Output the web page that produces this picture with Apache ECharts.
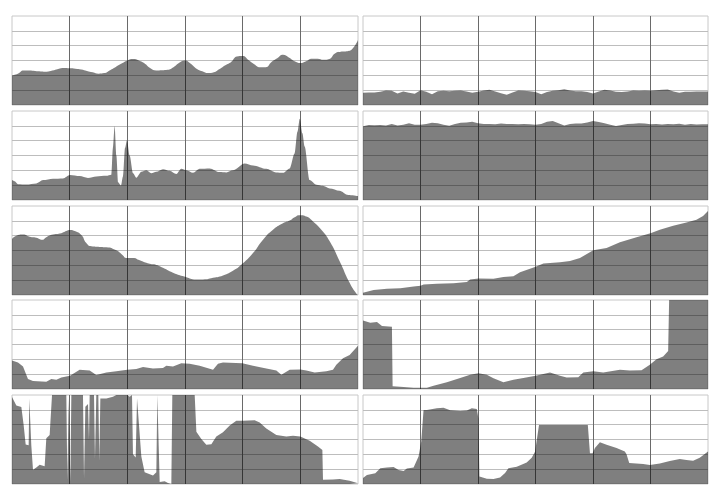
<!DOCTYPE html>
<html>
<head>
<meta charset="utf-8">
<script src="https://cdn.jsdelivr.net/npm/echarts@6/dist/echarts.min.js"></script>
<style>html,body{margin:0;padding:0;background:#fff}#c{width:721px;height:500px}</style>
</head>
<body>
<div id="c"></div>
<script>
// Values are in grid-row units (0..6); x in 0..60 (6 columns of 10)
const p1Y = [1.98,2.1,2.33,2.32,2.29,2.26,2.24,2.32,2.43,2.49,2.47,2.45,2.4,2.3,2.2,2.11,2.15,2.35,2.57,2.79,3.0,3.1,3.0,2.8,2.48,2.33,2.34,2.37,2.55,2.85,3.0,2.78,2.45,2.27,2.15,2.2,2.42,2.68,2.9,3.27,3.3,3.03,2.75,2.55,2.55,2.9,3.15,3.38,3.2,2.95,2.83,2.95,3.12,3.12,3.05,3.1,3.48,3.59,3.62,3.78,4.38];
const p2Y = [0.82,0.84,0.84,0.89,0.98,0.96,0.78,0.91,0.82,0.76,1.0,0.89,0.73,0.93,0.96,0.93,0.96,0.98,0.91,0.82,0.89,0.98,1.02,0.91,0.8,0.69,0.84,0.98,0.96,0.93,0.87,0.73,0.87,0.96,1.0,1.07,0.98,0.93,0.93,0.87,0.78,0.91,1.02,0.98,0.89,0.87,0.91,0.98,0.96,0.98,0.96,1.0,1.02,1.04,0.91,0.82,0.89,0.89,0.91,0.91,0.91];
const p3X = [0,0.46,1.04,2.49,4.22,5.38,7.11,8.84,10.06,11.73,13.18,14.62,16.36,17.23,17.5,17.8,18.1,18.4,18.9,19.25,19.6,19.94,20.4,21.0,21.56,22.43,23.3,24.16,25.03,26.18,27.34,28.5,29.36,30.23,31.39,32.54,34.28,36.0,37.17,38.3,40.35,41.8,44.1,45.8,47.0,48.15,49.0,49.5,49.9,50.35,50.75,51.6,52.8,53.9,55.1,56.8,58.3,60];
const p3Y = [1.34,1.27,1.07,1.05,1.12,1.34,1.43,1.45,1.68,1.61,1.48,1.59,1.63,1.7,3.5,4.97,3.0,1.2,0.98,1.6,3.5,4.03,3.0,1.8,1.5,1.9,2.0,1.8,1.9,2.08,1.97,1.75,2.1,2.0,1.83,2.1,2.13,1.88,1.86,2.0,2.46,2.33,2.1,1.86,1.83,2.13,3.13,4.6,5.48,4.5,3.6,1.34,1.03,0.96,0.78,0.63,0.34,0.27];
const p4Y = [4.97,5.05,5.04,5.06,5.02,5.13,5.03,5.08,5.18,5.07,5.08,5.12,5.2,5.17,5.08,5.0,5.12,5.2,5.23,5.28,5.18,5.12,5.13,5.11,5.16,5.12,5.13,5.1,5.12,5.1,5.08,5.12,5.28,5.32,5.18,5.02,5.12,5.15,5.16,5.22,5.32,5.26,5.18,5.08,4.99,5.05,5.12,5.14,5.17,5.15,5.1,5.12,5.09,5.12,5.1,5.14,5.08,5.13,5.09,5.1,5.1];
const p5X = [0,0.75,1.91,3.06,4.22,5.26,5.95,7.11,8.55,9.42,10.06,10.87,12.02,12.89,13.76,15.2,16.36,18.09,18.96,20.0,20.98,22.14,23.87,25.03,26.18,27.92,30.0,31.97,33.12,34.86,36.59,38.32,39.94,41.79,43.53,45.26,46.99,48.15,49.02,50.0,51.04,52.2,53.64,55.09,56.82,58.55,59.71,60];
const p5Y = [3.77,4.0,4.08,3.93,3.86,3.73,3.9,4.08,4.17,4.31,4.38,4.31,4.04,3.5,3.28,3.24,3.22,3.01,2.77,2.5,2.5,2.34,2.1,2.03,1.83,1.5,1.23,1.05,1.05,1.16,1.32,1.63,2.1,2.83,3.73,4.4,4.84,5.02,5.25,5.38,5.29,4.96,4.4,3.62,2.28,0.83,0.1,0];
const p6X = [0,1.85,4.17,6.48,8.8,10.01,10.53,12.85,15.74,18.06,18.63,20.08,22.69,24.42,26.16,27.31,30.03,31.37,34.26,36.0,37.73,40.05,42.36,44.68,47.57,50.0,51.62,53.94,56.25,57.99,59.14,60];
const p6Y = [0.16,0.33,0.42,0.45,0.58,0.63,0.71,0.76,0.8,0.87,1.05,1.12,1.1,1.21,1.27,1.54,1.9,2.12,2.21,2.3,2.5,3.01,3.17,3.55,3.9,4.17,4.4,4.67,4.89,5.07,5.33,5.67];
const p7X = [0,1.04,1.91,2.77,3.64,5.95,6.82,7.69,8.55,10.06,11.73,13.47,14.62,16.36,18.09,20.0,21.56,22.72,24.45,26.18,26.76,27.92,29.36,30.81,32.54,34.86,35.72,36.59,39.94,41.79,44.1,45.84,46.71,48.15,50.0,51.04,52.49,54.51,55.66,56.24,57.4,58.55,60];
const p7Y = [1.92,1.79,1.52,0.67,0.54,0.49,0.67,0.62,0.78,0.89,1.3,1.25,0.94,1.12,1.19,1.3,1.34,1.48,1.39,1.41,1.57,1.52,1.74,1.7,1.57,1.3,1.7,1.79,1.74,1.57,1.39,1.25,0.96,1.3,1.32,1.25,1.12,1.19,1.3,1.63,2.08,2.3,2.91];
const p8X = [0,1.27,2.43,3.3,5.03,5.15,7.06,8.8,11.11,12.27,14.58,16.9,18.63,20.08,21.53,22.69,24.42,26.16,27.89,30.03,32.52,34.26,35.42,37.44,38.31,40.05,41.78,44.68,46.41,48.44,49.88,51.04,52.2,53.07,53.24,60];
const p8Y = [4.61,4.47,4.52,4.25,4.2,0.18,0.13,0.09,0.09,0.22,0.45,0.74,0.96,1.07,0.96,0.72,0.45,0.63,0.74,0.89,1.12,0.89,0.78,0.8,1.12,1.19,1.12,1.3,1.25,1.26,1.63,2.01,2.19,2.57,6,6];
const p9X = [0,0.75,1.62,2.02,2.37,2.89,3.0,3.18,3.35,3.64,4.22,4.8,5.66,5.95,6.53,6.94,9.42,9.6,9.83,10.12,10.29,12.31,12.49,12.72,13.18,13.35,13.47,14.22,14.39,14.62,14.97,15.14,15.32,16.36,17.51,18.09,20.0,20.4,20.81,20.98,21.45,21.68,21.91,22.43,23.0,24.45,25.03,25.2,25.43,25.61,26.47,27.05,27.63,27.8,31.68,31.97,32.83,33.7,34.57,35.43,36.59,37.75,38.9,40.06,42.08,42.95,44.1,45.84,47.57,48.73,50.0,51.62,53.06,53.82,53.93,55.66,56.82,58.55,60];
const p9Y = [5.86,5.3,5.19,3.98,2.66,2.62,5.77,5.77,2.6,0.96,1.12,1.3,1.19,3.09,3.31,6,6,0.29,5.77,0.18,6,6,0.4,5.2,5.4,2.96,6,6,1.74,6,6,1.57,5.77,5.77,5.88,6,6,5.88,6,2.0,1.79,5.77,5.77,1.86,0.8,0.58,0.8,6,6,0.13,0.18,0.07,0,6,6,3.53,3.04,2.64,2.68,3.2,3.49,3.94,4.27,4.27,4.3,4.14,3.74,3.31,3.2,3.26,3.2,2.91,2.53,2.3,0.29,0.31,0.33,0.22,0.05];
const p10X = [0,0.69,2.14,3.01,4.17,5.32,6.19,7.06,7.64,8.8,9.66,10.13,10.53,11.11,12.85,14.0,15.16,16.9,18.06,18.92,19.79,20.08,20.25,21.53,22.69,23.84,24.71,25.29,26.74,28.47,29.34,29.92,30.61,39.1,39.47,39.93,40.34,41.2,42.36,44.1,45.54,45.83,46.3,48.73,49.88,51.62,53.36,55.09,56.25,57.41,58.56,60];
const p10Y = [0.4,0.6,0.72,1.07,1.12,1.14,0.94,0.87,1.05,1.12,1.86,2.87,4.99,4.99,5.1,5.14,4.97,4.92,4.96,5.1,5.05,4.4,0.51,0.36,0.33,0.43,0.74,1.07,1.16,1.45,1.77,2.18,3.98,3.98,2.08,2.08,2.42,2.82,2.64,2.42,2.19,2.0,1.41,1.34,1.28,1.39,1.55,1.68,1.61,1.57,1.77,2.19];

const byIndex = ys => ys.map((v, i) => [i, v]);
const zip = (xs, ys) => xs.map((x, i) => [x, ys[i]]);

// order: row by row, left then right
const panels = [
  {data: byIndex(p1Y), smooth: 0.5, mono: null},
  {data: byIndex(p2Y), smooth: 0, mono: null},
  {data: zip(p3X, p3Y), smooth: 0.3, mono: 'x'},
  {data: byIndex(p4Y), smooth: 0, mono: null},
  {data: zip(p5X, p5Y), smooth: 0.6, mono: null},
  {data: zip(p6X, p6Y), smooth: 0, mono: null},
  {data: zip(p7X, p7Y), smooth: 0, mono: null},
  {data: zip(p8X, p8Y), smooth: 0, mono: null},
  {data: zip(p9X, p9Y), smooth: 0, mono: null},
  {data: zip(p10X, p10Y), smooth: 0, mono: null}
];

const tops = [16, 111, 206, 300, 395];
const grids = [], xAxes = [], yAxes = [], series = [];
panels.forEach((p, k) => {
  const row = Math.floor(k / 2), col = k % 2;
  grids.push({
    left: col === 0 ? 12 : 363, top: tops[row],
    width: col === 0 ? 346 : 345, height: 89,
    show: true, borderColor: '#c8c8c8', borderWidth: 1, backgroundColor: 'transparent'
  });
  xAxes.push({
    type: 'value', gridIndex: k, min: 0, max: 60, interval: 10,
    axisLine: {show: false}, axisTick: {show: false}, axisLabel: {show: false},
    splitLine: {show: true, showMinLine: false, showMaxLine: false, lineStyle: {color: '#6a6a6a', width: 1}}
  });
  yAxes.push({
    type: 'value', gridIndex: k, min: 0, max: 6, interval: 1,
    axisLine: {show: false}, axisTick: {show: false}, axisLabel: {show: false},
    splitLine: {show: true, showMinLine: false, showMaxLine: false, lineStyle: {color: '#bdbdbd', width: 1}}
  });
  const s = {
    type: 'line', xAxisIndex: k, yAxisIndex: k, data: p.data,
    smooth: p.smooth, symbol: 'none', showSymbol: false,
    lineStyle: {width: 0, opacity: 0},
    areaStyle: {color: 'rgba(0,0,0,0.5)', opacity: 1},
    clip: true, silent: true
  };
  if (p.mono) s.smoothMonotone = p.mono;
  series.push(s);
});

const chart = echarts.init(document.getElementById('c'), null, {renderer: 'canvas'});
chart.setOption({
  animation: false,
  backgroundColor: '#fff',
  grid: grids, xAxis: xAxes, yAxis: yAxes, series: series
});
</script>
</body>
</html>
